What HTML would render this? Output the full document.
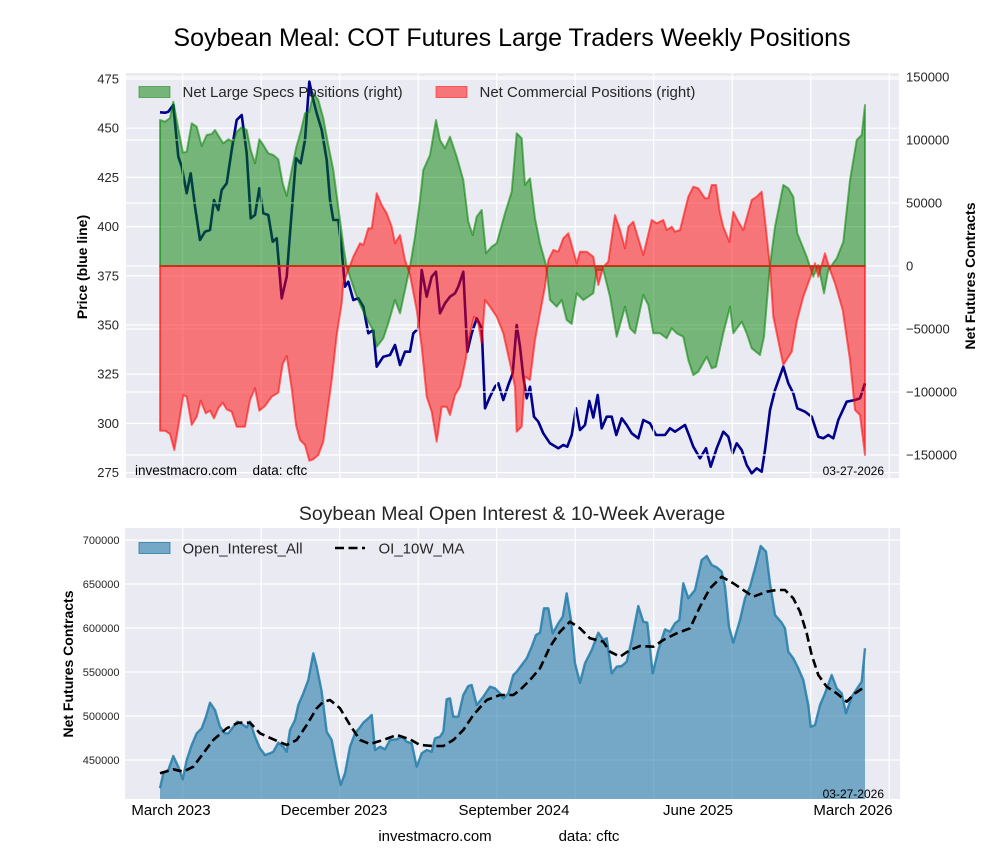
<!DOCTYPE html>
<html><head><meta charset="utf-8"><style>
html,body{margin:0;padding:0;background:#fff;}
svg{display:block;font-family:"Liberation Sans",Arial,sans-serif;}
</style></head><body>
<svg width="1000" height="860" viewBox="0 0 1000 860" xmlns="http://www.w3.org/2000/svg">
<defs>
<clipPath id="c1"><rect x="126" y="73" width="773" height="405"/></clipPath>
<clipPath id="c2"><rect x="125" y="528" width="775" height="271"/></clipPath>
</defs>
<rect width="1000" height="860" fill="#fff"/>
<text x="512" y="46" font-size="25" text-anchor="middle" fill="#000">Soybean Meal: COT Futures Large Traders Weekly Positions</text>

<!-- TOP AXES -->
<rect x="126" y="73" width="773" height="405" fill="#eaeaf2"/>
<g stroke="#fff" stroke-width="1.2">
<line x1="126" x2="899" y1="79" y2="79"/><line x1="126" x2="899" y1="128.2" y2="128.2"/><line x1="126" x2="899" y1="177.4" y2="177.4"/><line x1="126" x2="899" y1="226.6" y2="226.6"/><line x1="126" x2="899" y1="275.8" y2="275.8"/><line x1="126" x2="899" y1="325" y2="325"/><line x1="126" x2="899" y1="374.2" y2="374.2"/><line x1="126" x2="899" y1="423.4" y2="423.4"/><line x1="126" x2="899" y1="472.6" y2="472.6"/>
</g>
<g clip-path="url(#c1)">
<polyline fill="none" stroke="#00008b" stroke-width="2.6" stroke-linejoin="round" points="160,112.3 165,112.7 168.3,111.7 173.3,105 178.3,156.7 181.7,166.7 186.7,193.3 190.7,173.3 195,206.7 200,240 205,231.7 210,230 214,200 218.3,210 221.7,190 226.7,183.3 231.7,150 236.7,120 241.7,115 246.7,153.3 250.7,218.3 255,215 259.3,188.3 263.3,213.3 268.3,215 272.7,241.7 276.7,238.3 281.7,298.3 286.7,276.7 290,233.3 296,158.3 300.7,163.3 305,140 309.3,81.7 313.3,100 316.7,113.3 321.7,130 326.7,160 330,200 333.3,220 338.3,220 341.7,250 345,286.7 348.3,281.7 353.3,300 358.3,298.3 363.3,306.7 368.3,333.3 373.3,330 376.7,366.7 383.3,356.7 390,355 395,345 400,365 405,351.7 410,351.7 413.3,333.3 418.3,328.3 421.7,270 426.7,296.7 431.7,276.7 436,271.7 440,313.3 445,303.3 450,296.7 455,293.3 458.3,286.7 463.3,271.7 467.3,351.7 471.7,333.3 476.7,318.3 481.7,328.3 485,408.3 490,396.7 495,386.7 498.3,383.3 503.3,400 508.3,385 512.7,373.3 516.7,325 520,346.7 523.3,376.7 526.7,398.3 530,386.7 534,416.7 538.3,421.7 543.3,433.3 550,443.3 558.3,448.3 563.3,445 567.3,446.7 571.7,435 576,408.3 580,430 585,425 589.3,401 593.3,417.5 597.7,395 601.7,428.3 606.7,416.7 611.7,416.7 616.3,435 621.7,418.3 626.7,425 631.7,433.3 638.3,438.3 643.3,420 650,423.3 656,435 665,435 670,428.3 675,431.7 680,428.3 685,425 688.3,433.3 693.3,446.7 700,458.3 706,448.3 710.7,466.7 716.7,448.3 723.3,431.7 728.3,436.7 732.7,453.3 736.7,443.3 741.7,450 746.7,465 751.7,473.3 756.7,468.3 761.7,471.7 765,450 770,410 775,390 783.3,366.7 788.3,383.3 793.3,393.3 797.3,408.3 805,411.7 811.7,416.7 818.3,436.7 823.3,438.3 828.3,435 833.3,438.3 838.3,420 846.7,401.7 855,400 860,398.3 865,383.3"/>
</g>
<g stroke="#fff" stroke-width="1.2">
<line x1="126" x2="899" y1="77" y2="77"/><line x1="126" x2="899" y1="140" y2="140"/><line x1="126" x2="899" y1="203" y2="203"/><line x1="126" x2="899" y1="266" y2="266"/><line x1="126" x2="899" y1="329" y2="329"/><line x1="126" x2="899" y1="392" y2="392"/><line x1="126" x2="899" y1="455" y2="455"/>
<line x1="182.7" x2="182.7" y1="73" y2="478"/><line x1="261.2" x2="261.2" y1="73" y2="478"/><line x1="339.7" x2="339.7" y1="73" y2="478"/><line x1="418.2" x2="418.2" y1="73" y2="478"/><line x1="496.7" x2="496.7" y1="73" y2="478"/><line x1="575.2" x2="575.2" y1="73" y2="478"/><line x1="653.7" x2="653.7" y1="73" y2="478"/><line x1="732.2" x2="732.2" y1="73" y2="478"/><line x1="810.7" x2="810.7" y1="73" y2="478"/><line x1="889.2" x2="889.2" y1="73" y2="478"/>
</g>
<g clip-path="url(#c1)" stroke-width="2" stroke-linejoin="round">
<polygon fill="#008000" fill-opacity="0.5" stroke="#008000" stroke-opacity="0.55" points="160,120 165,121.7 170,118 173.3,101.7 178,127 183,152.7 186.7,151.7 191.7,123.3 196.7,126.7 201.7,146 206.7,135 211.7,134 215,130 220,138.3 223.3,143.3 228.3,139.3 233.3,141.7 236.7,131.7 241.7,127.3 246.7,130 250.7,150 255,163.3 259.3,139.3 263.3,145 268.3,153.3 273.3,155 278.3,159.3 282.7,183.3 286.7,196 291.7,170 296,148.3 300.7,131.7 305,113.3 309.3,111.7 313.3,93.3 318.3,100 323.3,118.3 328.3,145 333.3,170 340,220 344,250 346.7,266.7 350,277 356.7,296.7 361.7,308 368.3,321.7 372,328 376.7,346.7 383.3,338.3 388.3,323.3 395,300 400,313.3 405,290 410,266.7 415,236.7 420,200 423.3,170 430,155 436,120 440,140 445,148.3 450,136.7 456.7,156.7 463.3,180 468.3,221.7 472.7,235 476.7,216.7 481.7,210 486,253.3 491.7,246.7 496.7,243.3 505,213.3 511.7,191.7 516.7,133.3 521.7,138.3 525,185 530,178.3 535,218.3 540,243.3 546,265 550,300 556.7,306.7 561.7,300 566.7,320 571.7,324 576.7,293.3 583.3,300 593.3,293.3 596.7,270 603.3,270 610,296.7 616.7,336.7 625,306.7 630,328.3 635,333.3 643.3,295 648.3,305 653.3,333.3 660,333.3 666.7,338.3 671.7,328.3 676.7,333.3 683.3,336.7 688.3,360 693.3,375 698.3,371.7 706.7,356.7 711.7,368.3 716,366.7 723.3,333.3 730,306.7 733.3,333.3 741.7,321.7 746.7,333.3 751.7,348.3 760,355 764,336.7 770,265 775,226.7 783.3,185 788.3,188.3 793.3,196.7 797.3,233.3 806.7,256.7 813.3,276.7 818.3,265 824,293.3 828.3,270 836.7,258.3 843.3,241.7 850,180 856.7,140 861.7,135 865,105 865,266 160,266"/>
<polygon fill="#ff0000" fill-opacity="0.5" stroke="#ff0000" stroke-opacity="0.55" points="160,430.7 165,430.7 170,434 174.3,450 178.3,426.7 183.3,395 186.7,396.7 191.7,425 196.7,416.7 200.7,400.7 205.7,413.3 210,410.7 214,418.3 218.3,408.3 222.7,402.7 226.7,409.3 231.7,411.7 236.7,426.7 245,426.7 250,400 255,388.3 259.3,410.7 265,406 271.7,396.7 278.3,392.7 282.7,364 286.7,356 291.7,388.3 296,425 300,440 305,445 309.3,460.7 313.3,459.3 318.3,455 323.3,441.7 326.7,416.7 331.7,380 336.7,335 341.7,303.3 343.3,283.3 348.3,270 353.3,256.7 360,243.3 363.3,245 368.3,228.3 371.7,228.3 376.7,193.3 381.7,205 386.7,213.3 391.7,226.7 395,243.3 400,235 405,260 410,275 416.7,310 421.7,346.7 426.7,396.7 431.7,411.7 436.7,441.7 441.7,406.7 446.7,406.7 450,415 455,395 460,386.7 465,363.3 470,333.3 474,316.7 478.3,323.3 481.7,343.3 485,300 490,306.7 496.7,316.7 503.3,333.3 510,363.3 515,386.7 516.7,431.7 521.7,426.7 525,376.7 530,380 535,340 540,313.3 545,286.7 548.3,260 553.3,250 558.3,251.7 563.3,238.3 568.3,233.3 571.7,245 576.7,263.3 580,251.7 586.7,251.7 593.3,256.7 598.3,285 603.3,266.7 608.3,261.7 615,215 620,230 625,248.3 628.3,226.7 633.3,221.7 643.3,255 651.7,220 656.7,223.3 663.3,220 666.7,230 671.7,226.7 675,231.7 680,230 688.3,196.7 693.3,186.7 698.3,188.3 705,198.3 708.3,198.3 711.7,185 716,185 720,213.3 723.3,226.7 729.3,241.7 733.3,211.7 738.3,221.7 743.3,230 751.7,200 756.7,196.7 761.7,191.7 765,220 770,266.7 773.3,316.7 783.3,365 791.7,351.7 796.7,321.7 803.3,296.7 810,278.3 815,263.3 818.3,276.7 825,253.3 830,270 835,283.3 842.7,310 850,360 855,410 860,415 865,455 865,266 160,266"/>
</g>
<!-- top legend -->
<rect x="139" y="86.5" width="31" height="11" fill="#008000" fill-opacity="0.5" stroke="#008000" stroke-opacity="0.5"/>
<text x="182.5" y="97" font-size="15" fill="#262626">Net Large Specs Positions (right)</text>
<rect x="436" y="86.5" width="31" height="11" fill="#ff0000" fill-opacity="0.5" stroke="#ff0000" stroke-opacity="0.5"/>
<text x="479.5" y="97" font-size="15" fill="#262626">Net Commercial Positions (right)</text>
<text x="135" y="475" font-size="13.5" fill="#000">investmacro.com</text>
<text x="252.5" y="475" font-size="13.5" fill="#000">data: cftc</text>
<text x="884" y="475" font-size="12" fill="#000" text-anchor="end">03-27-2026</text>
<!-- top ticks -->
<g font-size="13" fill="#262626" text-anchor="end">
<text x="119" y="83.5">475</text><text x="119" y="132.7">450</text><text x="119" y="181.9">425</text><text x="119" y="231.1">400</text><text x="119" y="280.3">375</text><text x="119" y="329.5">350</text><text x="119" y="378.7">325</text><text x="119" y="427.9">300</text><text x="119" y="477.1">275</text>
</g>
<g font-size="13" fill="#262626">
<text x="906" y="81.5">150000</text><text x="906" y="144.5">100000</text><text x="906" y="207.5">50000</text><text x="906" y="270.5">0</text><text x="906" y="333.5">−50000</text><text x="906" y="396.5">−100000</text><text x="906" y="459.5">−150000</text>
</g>
<text transform="translate(87,267) rotate(-90)" font-size="14" font-weight="bold" text-anchor="middle" fill="#000">Price (blue line)</text>
<text transform="translate(975,276) rotate(-90)" font-size="14" font-weight="bold" text-anchor="middle" fill="#000">Net Futures Contracts</text>

<!-- BOTTOM AXES -->
<text x="512" y="520" font-size="19.5" text-anchor="middle" fill="#262626">Soybean Meal Open Interest &amp; 10-Week Average</text>
<rect x="125" y="528" width="775" height="271" fill="#eaeaf2"/>
<g stroke="#fff" stroke-width="1.2">
<line x1="125" x2="900" y1="540" y2="540"/><line x1="125" x2="900" y1="584" y2="584"/><line x1="125" x2="900" y1="628" y2="628"/><line x1="125" x2="900" y1="672" y2="672"/><line x1="125" x2="900" y1="716" y2="716"/><line x1="125" x2="900" y1="760" y2="760"/>
<line x1="182.7" x2="182.7" y1="528" y2="799"/><line x1="261.2" x2="261.2" y1="528" y2="799"/><line x1="339.7" x2="339.7" y1="528" y2="799"/><line x1="418.2" x2="418.2" y1="528" y2="799"/><line x1="496.7" x2="496.7" y1="528" y2="799"/><line x1="575.2" x2="575.2" y1="528" y2="799"/><line x1="653.7" x2="653.7" y1="528" y2="799"/><line x1="732.2" x2="732.2" y1="528" y2="799"/><line x1="810.7" x2="810.7" y1="528" y2="799"/><line x1="889.2" x2="889.2" y1="528" y2="799"/>
</g>
<g clip-path="url(#c2)">
<polygon fill="rgb(37,124,169)" fill-opacity="0.6" stroke="none" points="160,788.3 163.3,773.3 168.3,770 173.3,756 178.3,766.7 182.7,779.3 186.7,760 191.7,745 196.7,733.3 201.7,728.3 206,716.7 210,702.7 215,710 220,726.7 225,733.3 228.3,733.3 233.3,726.7 237.3,721.7 243.3,725 246.7,727.3 250,721.7 255,736.7 260,748.3 265,755 270,753.3 273.3,751.7 278.3,742.7 283.3,746.7 286.7,751.7 290,730 295,720 298.3,705 303.3,693.3 308.3,680 313.3,653.3 316.7,666.7 321.7,691.7 326.7,731.7 331.7,740 336.7,766.7 340.7,785 345,773.3 350,746.7 355,733.3 360,727.3 363.3,722.7 368.3,718.3 371.7,715 375,750 380,746.7 385,749.3 390,740 396.7,739.3 401.7,736.7 406.7,741.7 411.7,743.3 416.7,766.7 421.7,753.3 426.7,750 431.7,751.7 435,738.3 440,736.7 443.3,731.7 446.7,699.3 450,698.3 453.3,716.7 458.3,716.7 463.3,695 468.3,686 471.7,685 476.7,705 483.3,696.7 490,686.7 495,688.3 500,693.3 503.3,698.3 508.3,693.3 513.3,675 516.7,671.7 521.7,665 526.7,658.3 531.7,646.7 536,635 540,632.7 544,608.3 548.3,608.3 552.7,633.3 558.3,623.3 562.7,616.7 566.7,593.3 571,620 575,663.3 580,682.7 585,663.3 591.7,650 598.3,632.7 603.3,640 606.7,638.3 611.7,673.3 616.7,666.7 621.7,666 626.7,661.7 631.7,640 638.3,606 643.3,621.7 647.3,622.7 652.7,673.3 658.3,650 665,629.3 670,631.7 675,623.3 679.3,620 683.3,583.3 688.3,598.3 695,590 701.7,560 706.7,556 711.7,565 716.7,567.3 721.7,571.7 725,586.7 729,626.7 733.3,642.7 740,620 745,598.3 750,586.7 755,568.3 760.7,546 766,551.7 770,583.3 775,615 781.7,622.7 785,628.3 788.3,651.7 793.3,658.3 798.3,668.3 803.3,680 808.3,705 810.7,726.7 815,725 820,705 825,693.3 831.7,675 836.7,688.3 841.7,693.3 846,713.3 851.7,696.7 858.3,686.7 861.7,681.7 865,648.3 865,810 160,810"/>
<polyline fill="none" stroke="rgb(37,124,169)" stroke-opacity="0.85" stroke-width="2.4" stroke-linejoin="round" points="160,788.3 163.3,773.3 168.3,770 173.3,756 178.3,766.7 182.7,779.3 186.7,760 191.7,745 196.7,733.3 201.7,728.3 206,716.7 210,702.7 215,710 220,726.7 225,733.3 228.3,733.3 233.3,726.7 237.3,721.7 243.3,725 246.7,727.3 250,721.7 255,736.7 260,748.3 265,755 270,753.3 273.3,751.7 278.3,742.7 283.3,746.7 286.7,751.7 290,730 295,720 298.3,705 303.3,693.3 308.3,680 313.3,653.3 316.7,666.7 321.7,691.7 326.7,731.7 331.7,740 336.7,766.7 340.7,785 345,773.3 350,746.7 355,733.3 360,727.3 363.3,722.7 368.3,718.3 371.7,715 375,750 380,746.7 385,749.3 390,740 396.7,739.3 401.7,736.7 406.7,741.7 411.7,743.3 416.7,766.7 421.7,753.3 426.7,750 431.7,751.7 435,738.3 440,736.7 443.3,731.7 446.7,699.3 450,698.3 453.3,716.7 458.3,716.7 463.3,695 468.3,686 471.7,685 476.7,705 483.3,696.7 490,686.7 495,688.3 500,693.3 503.3,698.3 508.3,693.3 513.3,675 516.7,671.7 521.7,665 526.7,658.3 531.7,646.7 536,635 540,632.7 544,608.3 548.3,608.3 552.7,633.3 558.3,623.3 562.7,616.7 566.7,593.3 571,620 575,663.3 580,682.7 585,663.3 591.7,650 598.3,632.7 603.3,640 606.7,638.3 611.7,673.3 616.7,666.7 621.7,666 626.7,661.7 631.7,640 638.3,606 643.3,621.7 647.3,622.7 652.7,673.3 658.3,650 665,629.3 670,631.7 675,623.3 679.3,620 683.3,583.3 688.3,598.3 695,590 701.7,560 706.7,556 711.7,565 716.7,567.3 721.7,571.7 725,586.7 729,626.7 733.3,642.7 740,620 745,598.3 750,586.7 755,568.3 760.7,546 766,551.7 770,583.3 775,615 781.7,622.7 785,628.3 788.3,651.7 793.3,658.3 798.3,668.3 803.3,680 808.3,705 810.7,726.7 815,725 820,705 825,693.3 831.7,675 836.7,688.3 841.7,693.3 846,713.3 851.7,696.7 858.3,686.7 861.7,681.7 865,648.3"/>
<polyline fill="none" stroke="#000" stroke-width="2.6" stroke-dasharray="9,4.5" stroke-linejoin="round" points="160,773.3 173.3,769.3 183.3,771.7 193.3,766.7 203.3,753.3 213.3,740 226.7,728.3 238.3,722.7 250,722.7 260,733.3 273.3,739.3 286.7,745 296.7,740 306.7,725 316.7,708.3 323,702 330,700 340,708.3 350,725 360,740 370,744 383.3,740 396.7,735 410,739.3 420,745 433.3,746 443.3,746 453.3,740 463.3,730 473.3,715 486.7,700 500,695 513.3,695 520,690 530,680 540,668.3 550,646.7 560,631.7 570,621.7 580,628.3 590,638.3 603.3,641.7 610,651.7 620,656.7 630,650 640,646 653.3,646.7 663.3,640 676.7,633.3 690,628.3 700,606.7 710,588.3 721.7,576.7 733.3,583.3 743.3,590 753.3,596.7 766.7,591.7 776.7,590 785,590 793.3,598.3 800,611.7 806.7,633.3 811.7,655 818.3,675 826.7,686.7 836.7,693.3 846.7,701.7 855,693.3 865,686.7"/>
</g>
<!-- bottom legend -->
<rect x="139" y="542.5" width="31" height="11" fill="rgb(37,124,169)" fill-opacity="0.6" stroke="rgb(37,124,169)" stroke-opacity="0.8"/>
<text x="182.5" y="553.5" font-size="15" fill="#262626">Open_Interest_All</text>
<line x1="335" x2="365" y1="548" y2="548" stroke="#000" stroke-width="2.6" stroke-dasharray="9,4.5"/>
<text x="378.5" y="553.5" font-size="15" fill="#262626">OI_10W_MA</text>
<text x="884" y="798" font-size="12" fill="#000" text-anchor="end">03-27-2026</text>
<g font-size="11" fill="#262626" text-anchor="end">
<text x="119.5" y="544">700000</text><text x="119.5" y="588">650000</text><text x="119.5" y="632">600000</text><text x="119.5" y="676">550000</text><text x="119.5" y="720">500000</text><text x="119.5" y="764">450000</text>
</g>
<g font-size="15" fill="#000" text-anchor="middle">
<text x="171" y="815">March 2023</text><text x="334" y="815">December 2023</text><text x="514" y="815">September 2024</text><text x="698" y="815">June 2025</text><text x="853" y="815">March 2026</text>
</g>
<text transform="translate(73,664) rotate(-90)" font-size="14" font-weight="bold" text-anchor="middle" fill="#000">Net Futures Contracts</text>
<text x="435" y="841" font-size="15" text-anchor="middle" fill="#000">investmacro.com</text>
<text x="589" y="841" font-size="15" text-anchor="middle" fill="#000">data: cftc</text>
</svg>
</body></html>
